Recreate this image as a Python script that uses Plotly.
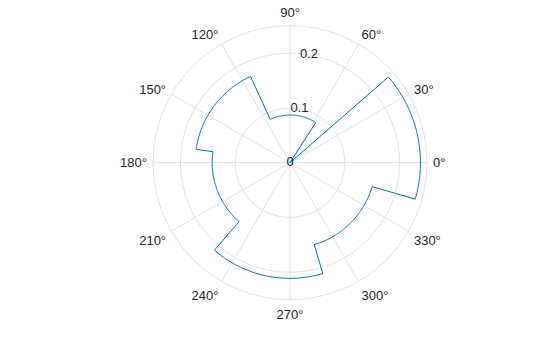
import numpy as np
import plotly.graph_objects as go

# Bin edges (radians) and normalized probability per bin
bin_edges = [1, 2, 3, 4, 5, 6, 7]
probabilities = [0.087, 0.173, 0.142, 0.211, 0.156, 0.238]
r_tick_vals = [0, 0.1, 0.2]
r_tick_text = ["0", "0.1", "0.2"]
theta_ticks = list(range(0, 360, 30))
theta_labels = [f"{t}°" for t in theta_ticks]

# Build stairs outline
r_line, th_line = [0.0], [np.degrees(bin_edges[0])]
for i, p in enumerate(probabilities):
    a0, a1 = np.degrees(bin_edges[i]), np.degrees(bin_edges[i + 1])
    arc = np.linspace(a0, a1, 60)
    th_line += list(arc)
    r_line += [p] * len(arc)
th_line.append(np.degrees(bin_edges[-1]))
r_line.append(0.0)

fig = go.Figure()
fig.add_trace(go.Scatterpolar(
    r=r_line, theta=th_line, mode="lines",
    line=dict(color="#0072BD", width=1), hoverinfo="skip", showlegend=False))
fig.add_trace(go.Scatterpolar(
    r=r_tick_vals, theta=[80] * len(r_tick_vals), mode="text",
    text=r_tick_text, textposition="middle center",
    textfont=dict(family="Liberation Sans, Arial", size=13, color="#262626"),
    hoverinfo="skip", showlegend=False))

W, H = 560, 337
cx, cy, R = 290, 162.7, 137
fig.update_layout(
    width=W, height=H, margin=dict(l=0, r=0, t=0, b=0),
    paper_bgcolor="white", showlegend=False,
    font=dict(family="Liberation Sans, Arial", size=13, color="#262626"),
    polar=dict(
        domain=dict(x=[(cx - R) / W, (cx + R) / W],
                    y=[(H - cy - R) / H, (H - cy + R) / H]),
        bgcolor="white",
        radialaxis=dict(range=[0, 0.25], tickvals=[0.1, 0.2], showticklabels=False,
                        ticks="", showline=False, gridcolor="#e3e3e3", gridwidth=1,
                        angle=80),
        angularaxis=dict(rotation=0, direction="counterclockwise",
                         tickvals=theta_ticks, ticktext=theta_labels,
                         ticks="outside", ticklen=3, tickcolor="rgba(0,0,0,0)",
                         showline=True, linecolor="#e3e3e3", linewidth=1,
                         gridcolor="#e3e3e3", gridwidth=1,
                         tickfont=dict(size=13, color="#262626")),
    ),
)
fig.write_html("out.html")
